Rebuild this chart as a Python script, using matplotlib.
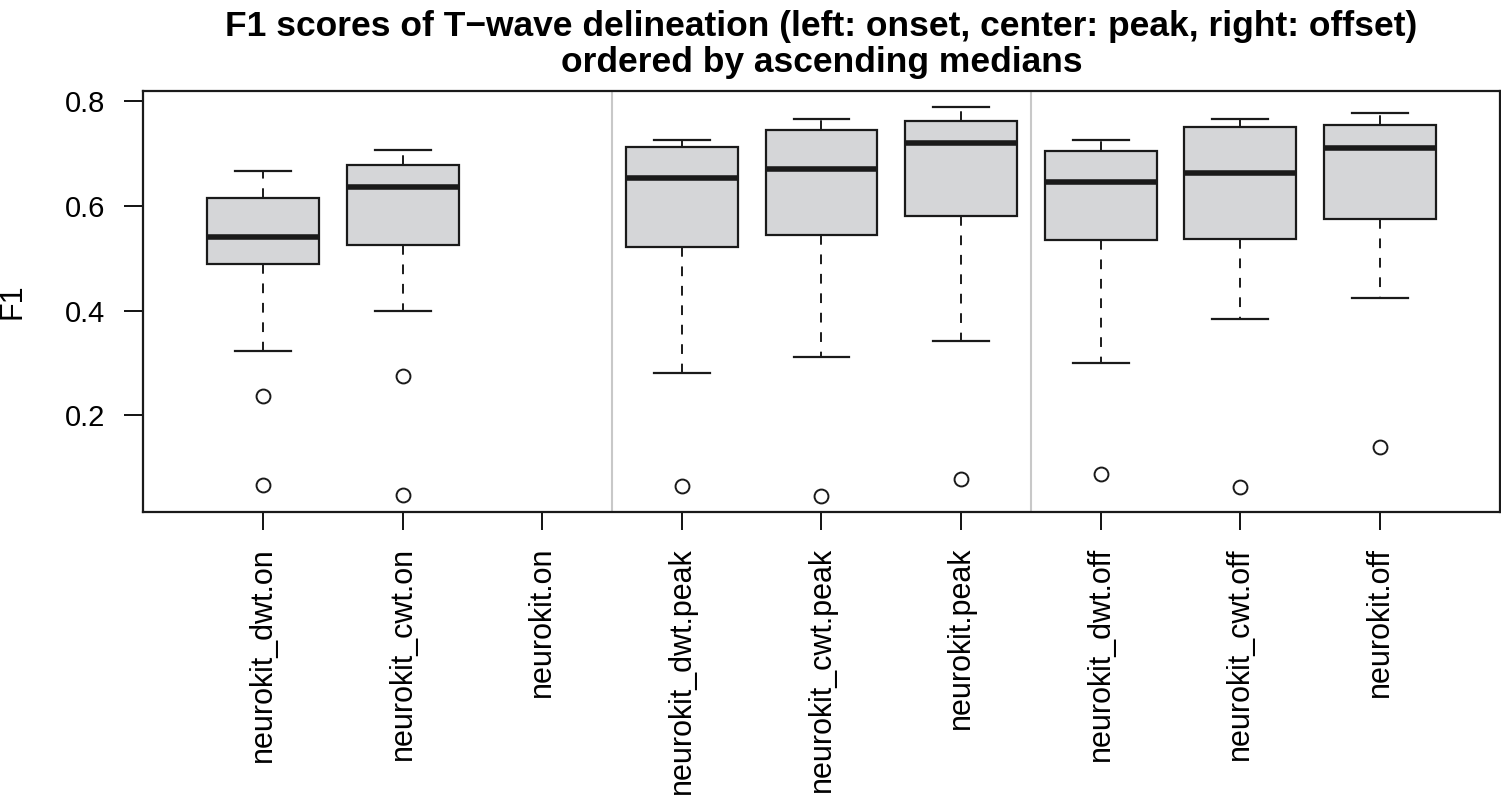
import matplotlib
matplotlib.use("Agg")
import matplotlib.pyplot as plt

plt.rcParams['font.family'] = ['Liberation Sans', 'DejaVu Sans']

# --- data (F1 per method) ---
labels = ['neurokit_dwt.on', 'neurokit_cwt.on', 'neurokit.on',
          'neurokit_dwt.peak', 'neurokit_cwt.peak', 'neurokit.peak',
          'neurokit_dwt.off', 'neurokit_cwt.off', 'neurokit.off']
# neurokit.on has no data (empty slot)
whislo = [0.323, 0.400, None, 0.281, 0.311, 0.341, 0.300, 0.384, 0.423]
q1     = [0.489, 0.525, None, 0.521, 0.545, 0.580, 0.535, 0.537, 0.575]
med    = [0.540, 0.636, None, 0.654, 0.670, 0.720, 0.645, 0.663, 0.711]
q3     = [0.615, 0.678, None, 0.712, 0.744, 0.762, 0.705, 0.750, 0.755]
whishi = [0.666, 0.706, None, 0.725, 0.766, 0.788, 0.726, 0.766, 0.778]
fliers = [[0.237, 0.067], [0.275, 0.047], [],
          [0.065], [0.046], [0.078],
          [0.088], [0.063], [0.139]]

positions = list(range(1, len(labels) + 1))
stats, pos = [], []
for i, p in enumerate(positions):
    if med[i] is None:
        continue
    stats.append(dict(whislo=whislo[i], q1=q1[i], med=med[i], q3=q3[i],
                      whishi=whishi[i], fliers=fliers[i]))
    pos.append(p)

fig = plt.figure(figsize=(15.01, 7.99), dpi=100)
ax = fig.add_axes([0.0953, 0.359, 0.9040, 0.527])

ax.bxp(stats, positions=pos, widths=0.8, patch_artist=True,
       boxprops=dict(facecolor='#d5d6d8', edgecolor='#1a1a1a', linewidth=1.6),
       medianprops=dict(color='#1a1a1a', linewidth=4.0, solid_capstyle='butt'),
       whiskerprops=dict(color='#1a1a1a', linewidth=1.4, linestyle=(0, (5, 5))),
       capprops=dict(color='#1a1a1a', linewidth=1.6),
       capwidths=0.4,
       flierprops=dict(marker='o', markerfacecolor='none', markeredgecolor='#1a1a1a',
                       markersize=10, markeredgewidth=1.4))

# group separators
for x in (3.5, 6.5):
    ax.axvline(x, color='#c8c8c8', linewidth=1.5, zorder=0)

ax.set_xlim(0.14, 9.86)
ax.set_ylim(0.015, 0.819)
ax.set_xticks(positions)
ax.set_xticklabels(labels, rotation=90, fontsize=22)
ax.set_yticks([0.2, 0.4, 0.6, 0.8])
ax.set_yticklabels(['0.2', '0.4', '0.6', '0.8'], fontsize=21)
ax.tick_params(axis='x', length=13, width=1.3, pad=12)
ax.tick_params(axis='y', length=14, width=1.3, pad=13)
for s in ax.spines.values():
    s.set_linewidth(1.6)
    s.set_color('#1a1a1a')

ax.set_ylabel('F1', fontsize=22)
ax.yaxis.set_label_coords(-0.085, 0.5)
ax.set_title('F1 scores of T\u2212wave delineation (left: onset, center: peak, right: offset)\n'
             'ordered by ascending medians', fontsize=25.5, fontweight='bold',
             linespacing=1.1, pad=14)

fig.savefig('out.png', dpi=100)
